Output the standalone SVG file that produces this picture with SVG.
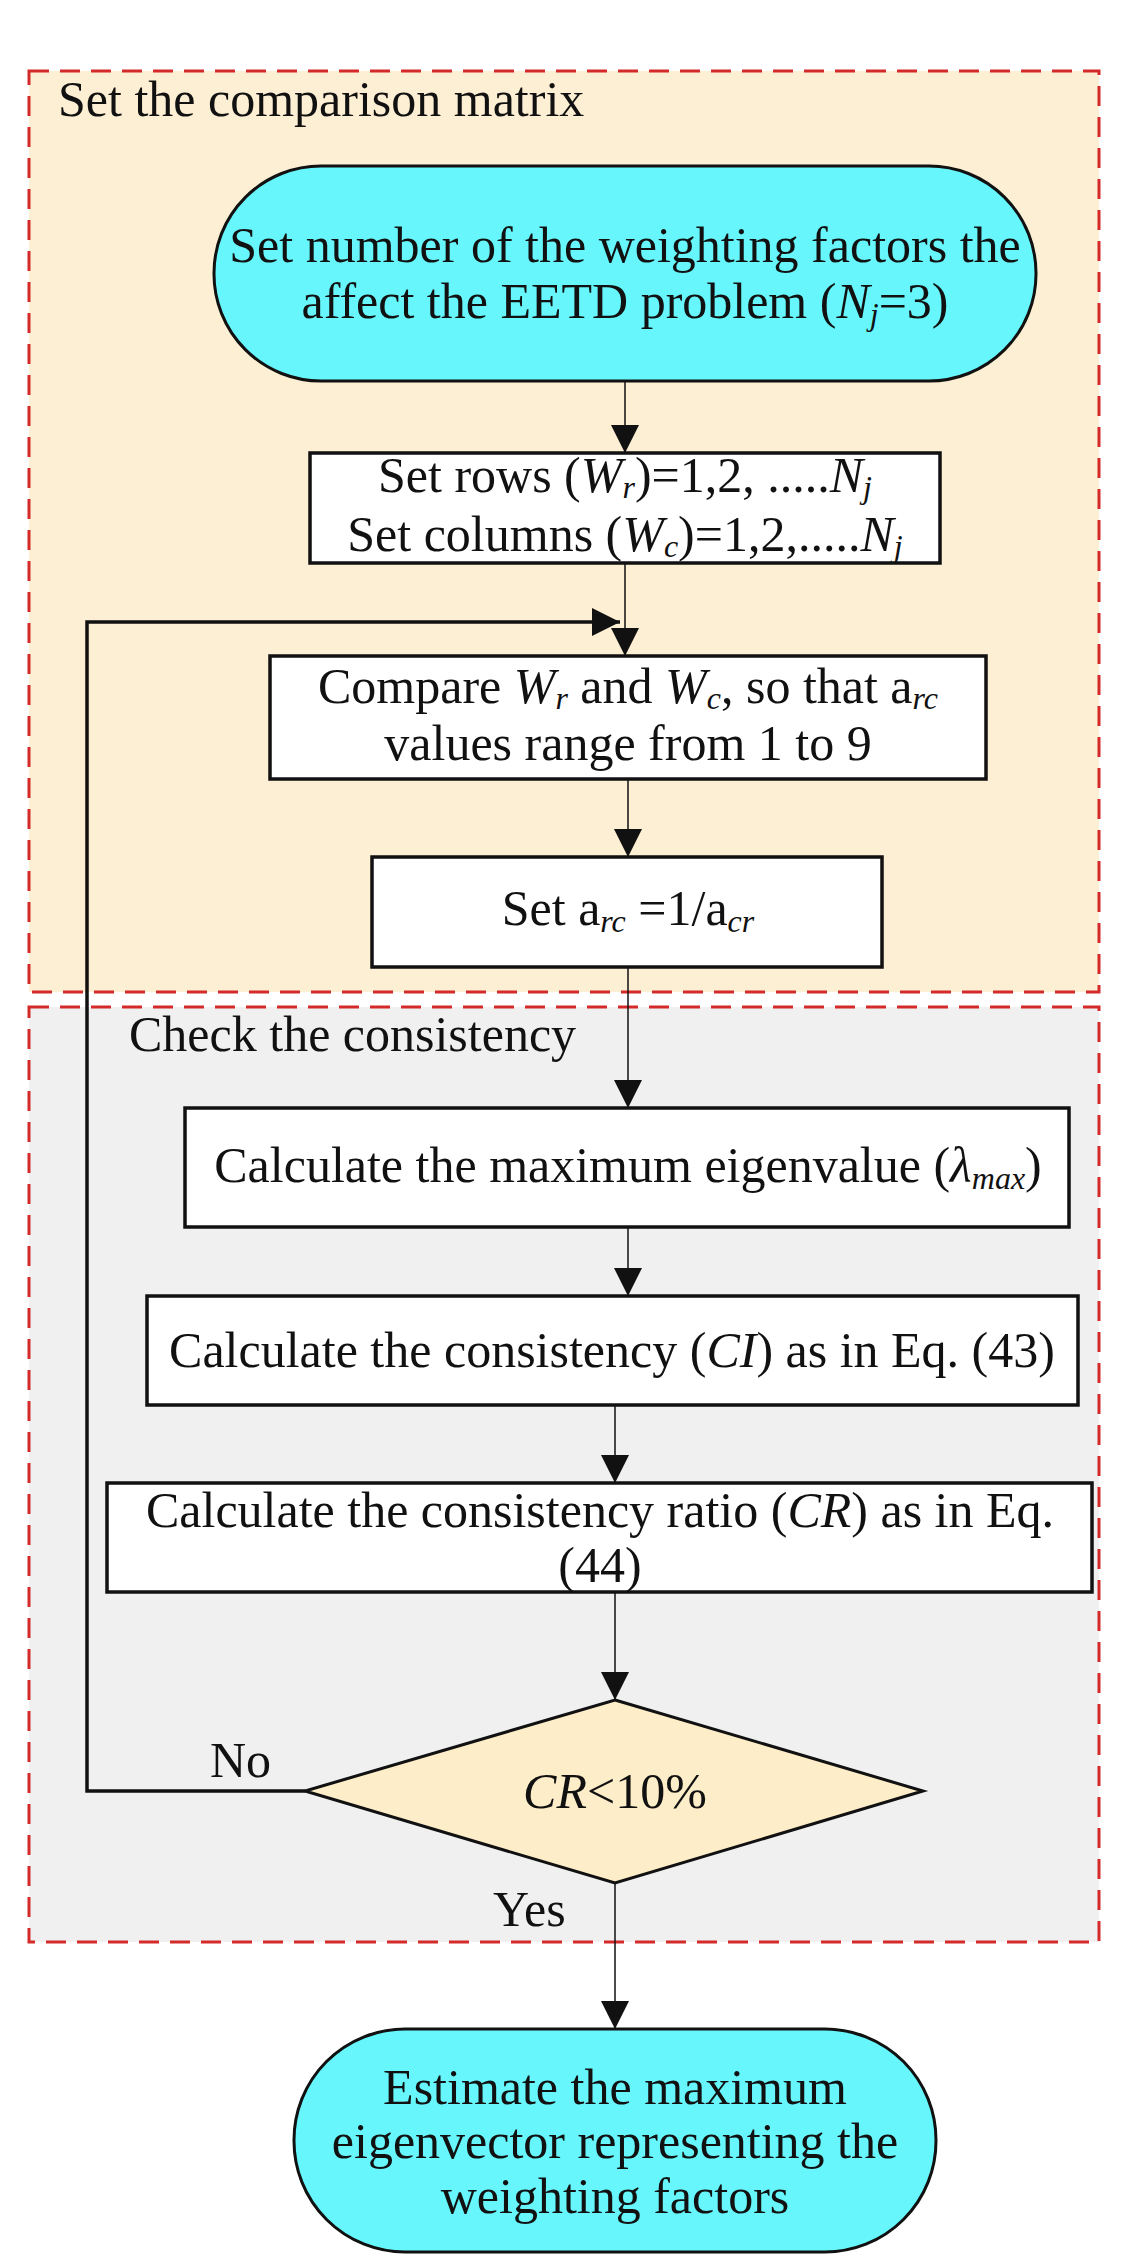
<svg xmlns="http://www.w3.org/2000/svg" width="1132" height="2264" viewBox="0 0 1132 2264">
<style>
text{font-family:"Liberation Serif","Times New Roman",serif;font-size:50px;fill:#111;text-anchor:middle}
.lbl{text-anchor:start}
.sec{stroke:#d42a2a;stroke-width:3;stroke-dasharray:20 11}
.box{fill:#fff;stroke:#111;stroke-width:3.5}
.term{fill:#66f6fb;stroke:#111;stroke-width:3}
.con{fill:none;stroke:#111;stroke-width:1.5}
.sub{font-size:32px;font-style:italic}
.it{font-style:italic}
</style>
<defs>
<marker id="ah2" viewBox="0 0 28 28" refX="28" refY="14" markerWidth="28" markerHeight="28" markerUnits="userSpaceOnUse" orient="auto">
<path d="M0,0 L28,14 L0,28 z" fill="#111"/>
</marker>
</defs>
<rect width="1132" height="2264" fill="#fff"/>
<g id="section1">
<rect x="29" y="71" width="1070" height="921" fill="#fdefd3" class="sec"/>
<text class="lbl" x="58" y="116">Set the comparison matrix</text>
</g>
<g id="section2">
<rect x="29" y="1007" width="1070" height="935" fill="#f0f0f0" class="sec"/>
<text class="lbl" x="129" y="1051">Check the consistency</text>
</g>
<g id="connectors">
<line class="con" x1="625" y1="381" x2="625" y2="453" marker-end="url(#ah2)"/>
<line class="con" x1="625" y1="563" x2="625" y2="656" marker-end="url(#ah2)"/>
<polyline fill="none" stroke="#111" stroke-width="3.5" points="305,1791 87,1791 87,622 620,622" marker-end="url(#ah2)"/>
<line class="con" x1="628" y1="779" x2="628" y2="857" marker-end="url(#ah2)"/>
<line class="con" x1="628" y1="967" x2="628" y2="1108" marker-end="url(#ah2)"/>
<line class="con" x1="628" y1="1227" x2="628" y2="1296" marker-end="url(#ah2)"/>
<line class="con" x1="615" y1="1405" x2="615" y2="1483" marker-end="url(#ah2)"/>
<line class="con" x1="615" y1="1592" x2="615" y2="1700" marker-end="url(#ah2)"/>
<line class="con" x1="615" y1="1883" x2="615" y2="2029" marker-end="url(#ah2)"/>
<text class="lbl" x="210" y="1777">No</text>
<text class="lbl" x="493" y="1926">Yes</text>
</g>
<g id="start">
<rect class="term" x="214" y="166" width="822" height="215" rx="107"/>
<text x="625" y="262">Set number of the weighting factors the</text>
<text x="625" y="318">affect the EETD problem (<tspan class="it">N</tspan><tspan class="sub" dy="7">j</tspan><tspan dy="-7">=3)</tspan></text>
</g>
<g id="setrows">
<rect class="box" x="310" y="453" width="630" height="110"/>
<text x="625" y="492">Set rows (<tspan class="it">W</tspan><tspan class="sub" dy="6">r</tspan><tspan dy="-6">)=1,2, .....</tspan><tspan class="it">N</tspan><tspan class="sub" dy="6">j</tspan></text>
<text x="625" y="551">Set columns (<tspan class="it">W</tspan><tspan class="sub" dy="6">c</tspan><tspan dy="-6">)=1,2,.....</tspan><tspan class="it">N</tspan><tspan class="sub" dy="6">j</tspan></text>
</g>
<g id="compare">
<rect class="box" x="270" y="656" width="716" height="123"/>
<text x="628" y="703">Compare <tspan class="it">W</tspan><tspan class="sub" dy="6">r</tspan><tspan dy="-6"> and  </tspan><tspan class="it">W</tspan><tspan class="sub" dy="6">c</tspan><tspan dy="-6">, so that a</tspan><tspan class="sub" dy="6">rc</tspan></text>
<text x="628" y="760">values range from 1 to 9</text>
</g>
<g id="setarc">
<rect class="box" x="372" y="857" width="510" height="110"/>
<text x="628" y="925">Set a<tspan class="sub" dy="7">rc</tspan><tspan dy="-7"> =1/a</tspan><tspan class="sub" dy="7">cr</tspan></text>
</g>
<g id="eigen">
<rect class="box" x="185" y="1108" width="884" height="119"/>
<text x="628" y="1182">Calculate the maximum eigenvalue (<tspan class="it">λ</tspan><tspan class="sub" dy="7">max</tspan><tspan dy="-7">)</tspan></text>
</g>
<g id="ci">
<rect class="box" x="147" y="1296" width="931" height="109"/>
<text x="612" y="1367">Calculate the consistency (<tspan class="it">CI</tspan>) as in Eq. (43)</text>
</g>
<g id="cr">
<rect class="box" x="107" y="1483" width="985" height="109"/>
<text x="600" y="1527">Calculate the consistency ratio (<tspan class="it">CR</tspan>) as in Eq.</text>
<text x="600" y="1582">(44)</text>
</g>
<g id="decision">
<polygon points="615,1700 923,1791 615,1883 305,1791" fill="#fdedc8" stroke="#111" stroke-width="3"/>
<text x="615" y="1808"><tspan class="it">CR</tspan>&lt;10%</text>
</g>
<g id="end">
<rect class="term" x="294" y="2029" width="642" height="223" rx="111"/>
<text x="615" y="2104">Estimate the maximum</text>
<text x="615" y="2158">eigenvector representing the</text>
<text x="615" y="2213">weighting factors</text>
</g>
</svg>
